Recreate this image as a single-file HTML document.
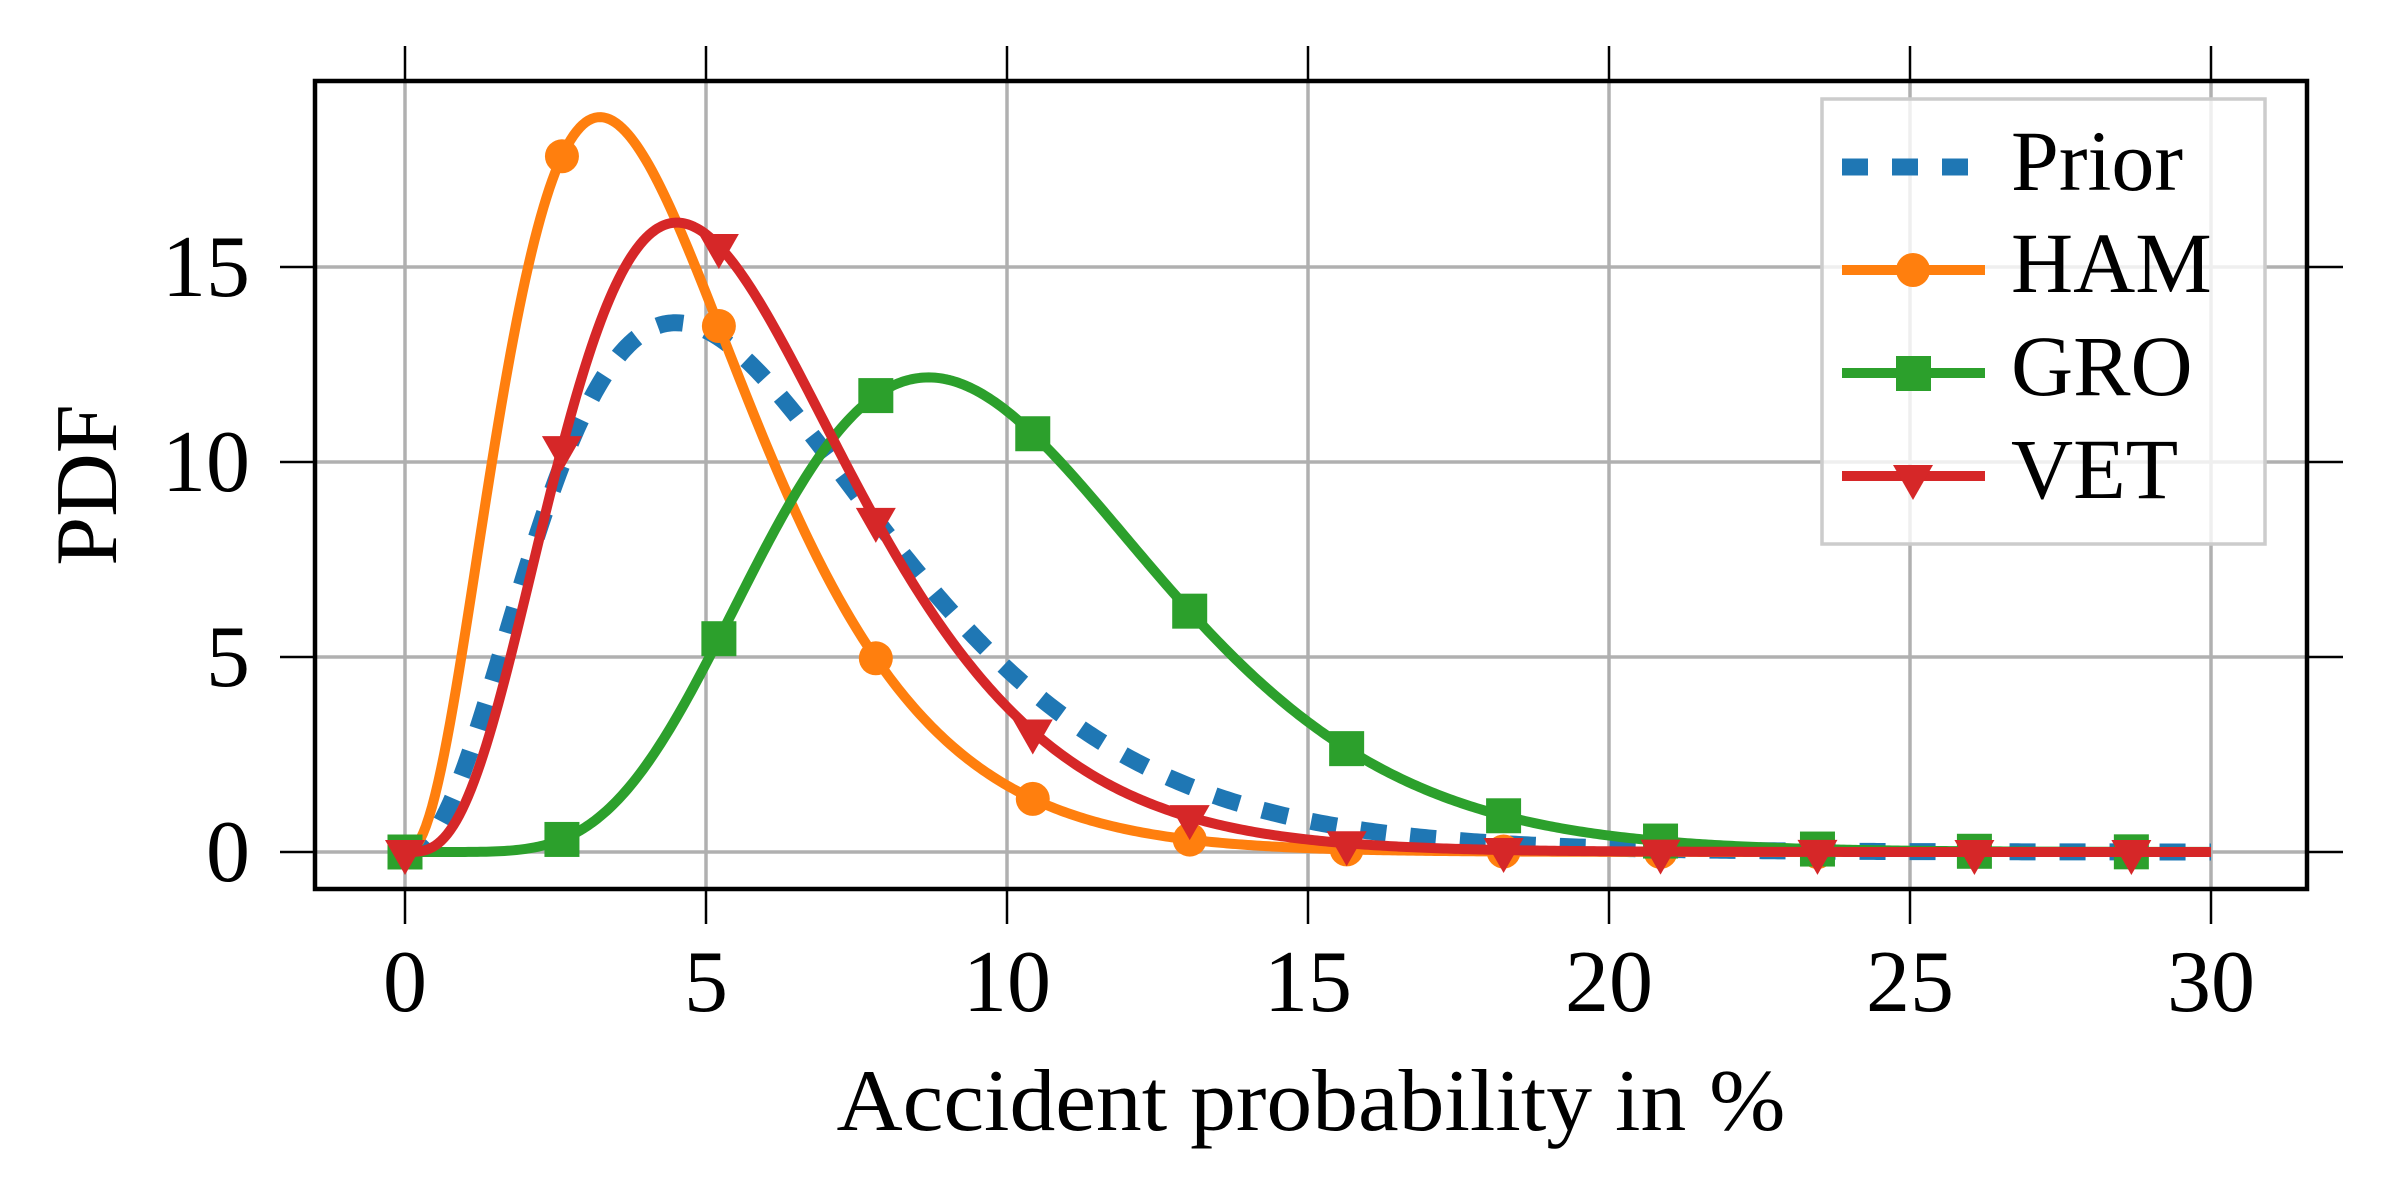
<!DOCTYPE html>
<html><head><meta charset="utf-8"><style>
html,body{margin:0;padding:0;background:#fff;}
svg{display:block;}
text{font-family:"Liberation Serif",serif;fill:#000;}
</style></head><body>
<svg id="s" width="2402" height="1185" viewBox="0 0 2402 1185" xmlns="http://www.w3.org/2000/svg">
<rect width="2402" height="1185" fill="#fff"/>
<g id="grid" stroke="#b0b0b0" stroke-width="3.5"></g>
<g id="curves"></g>
<rect x="315" y="81" width="1992" height="808" fill="none" stroke="#000" stroke-width="4.5"/>
<g id="ticks" stroke="#000" stroke-width="2.5"></g>
<g id="labels" font-size="88"></g>
<text x="1311" y="1130" font-size="88" text-anchor="middle" textLength="949" lengthAdjust="spacingAndGlyphs">Accident probability in %</text>
<text transform="translate(116,485) rotate(-90)" font-size="88" text-anchor="middle">PDF</text>
<g id="legend">
<rect x="1822" y="99" width="443" height="445" fill="rgba(255,255,255,0.8)" stroke="#cccccc" stroke-width="3.5"/>
<line x1="1842" y1="167" x2="1985" y2="167" stroke="#1f77b4" stroke-width="17" stroke-dasharray="26,24"/>
<line x1="1842" y1="270" x2="1985" y2="270" stroke="#ff7f0e" stroke-width="10"/>
<circle cx="1913" cy="270" r="17" fill="#ff7f0e"/>
<line x1="1842" y1="373" x2="1985" y2="373" stroke="#2ca02c" stroke-width="10"/>
<rect x="1896" y="356" width="35" height="35" fill="#2ca02c"/>
<line x1="1842" y1="476" x2="1985" y2="476" stroke="#d62728" stroke-width="10"/>
<polygon points="1893,465 1933,465 1913,500" fill="#d62728"/>
<text x="2011" y="190" font-size="86">Prior</text>
<text x="2011" y="292" font-size="86">HAM</text>
<text x="2011" y="395" font-size="86">GRO</text>
<text x="2011" y="498" font-size="86">VET</text>
</g>
</svg>
<script>
(function(){
var NS="http://www.w3.org/2000/svg";
var X0=405,SX=60.2,Y0=852,SY=39;
function px(x){return X0+SX*x;} function py(y){return Y0-SY*y;}
function el(p,t,a){var e=document.createElementNS(NS,t);for(var k in a)e.setAttribute(k,a[k]);p.appendChild(e);return e;}
var g=document.getElementById('grid'),tk=document.getElementById('ticks'),lb=document.getElementById('labels');
for(var i=0;i<=30;i+=5){var x=px(i);
 el(g,'line',{x1:x,y1:81,x2:x,y2:889});
 el(tk,'line',{x1:x,y1:46,x2:x,y2:81});el(tk,'line',{x1:x,y1:889,x2:x,y2:924});
 var t=el(lb,'text',{x:x,y:1011,'text-anchor':'middle'});t.textContent=i;}
for(var j=0;j<=15;j+=5){var y=py(j);
 el(g,'line',{x1:315,y1:y,x2:2307,y2:y});
 el(tk,'line',{x1:280,y1:y,x2:315,y2:y});el(tk,'line',{x1:2307,y1:y,x2:2343,y2:y});
 var t2=el(lb,'text',{x:250,y:y+29,'text-anchor':'end'});t2.textContent=j;}
function gam(k,l){
 var f=function(x){var p=x/100;return p<=0?0:Math.exp((k-1)*Math.log(p)-l*p);};
 var s=0,n=20000;for(var i=1;i<n;i++){s+=f(i*100/n)*(1/n);}
 return function(x){return f(x)/s;};}
var series=[
 {f:gam(3.5,55.6),c:'#1f77b4',w:17,d:'26,24',m:null},
 {f:gam(3.5,77.2),c:'#ff7f0e',w:10,m:'o'},
 {f:gam(8.2,82.8),c:'#2ca02c',w:10,m:'s'},
 {f:gam(4.5,77.5),c:'#d62728',w:10,m:'v'}];
var cg=document.getElementById('curves');
series.forEach(function(s){
 var d='';for(var i=0;i<=600;i++){var x=i*30/600;d+=(i?'L':'M')+px(x).toFixed(2)+','+py(s.f(x)).toFixed(2);}
 var a={d:d,fill:'none',stroke:s.c,'stroke-width':s.w,'stroke-linejoin':'round'};
 if(s.d)a['stroke-dasharray']=s.d;
 el(cg,'path',a);
 if(s.m){for(var m=0;m<12;m++){var x=m*2.607;var cx=px(x),cy=py(s.f(x));
  if(s.m=='o')el(cg,'circle',{cx:cx,cy:cy,r:17,fill:s.c});
  else if(s.m=='s')el(cg,'rect',{x:cx-17.5,y:cy-17.5,width:35,height:35,fill:s.c});
  else el(cg,'polygon',{points:(cx-20)+','+(cy-12)+' '+(cx+20)+','+(cy-12)+' '+cx+','+(cy+23),fill:s.c});}}
});
})();
</script>
</body></html>
